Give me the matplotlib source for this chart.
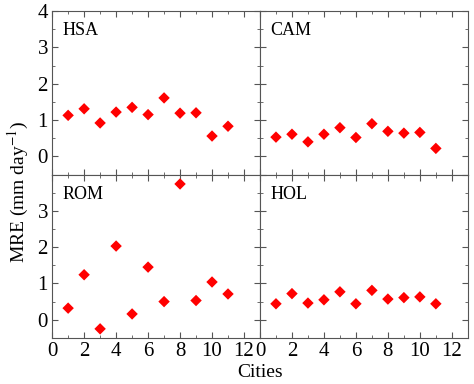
import matplotlib.pyplot as plt
from matplotlib.ticker import MultipleLocator

plt.rcParams['font.family'] = ['Liberation Serif', 'DejaVu Serif']
plt.rcParams['mathtext.fontset'] = 'stix'

cities = [1, 2, 3, 4, 5, 6, 7, 8, 9, 10, 11]
hsa = [1.13, 1.31, 0.92, 1.22, 1.35, 1.15, 1.61, 1.19, 1.20, 0.56, 0.83]
cam = [0.53, 0.61, 0.40, 0.61, 0.79, 0.52, 0.90, 0.69, 0.64, 0.66, 0.22]
rom = [0.32, 1.24, -0.25, 2.03, 0.16, 1.45, 0.50, 3.74, 0.53, 1.04, 0.71]
hol = [0.44, 0.72, 0.46, 0.55, 0.77, 0.44, 0.81, 0.57, 0.61, 0.63, 0.44]
panels = [("HSA", hsa), ("CAM", cam), ("ROM", rom), ("HOL", hol)]

fig = plt.figure(figsize=(4.74, 3.84), dpi=100)
L, R, B, T = 0.110, 0.987, 0.120, 0.971
w = (R - L) / 2
h = (T - B) / 2
grey = '#555555'

for i, (name, vals) in enumerate(panels):
    row, col = divmod(i, 2)
    ax = fig.add_axes([L + col * w, B + (1 - row) * h, w, h])
    ax.scatter(cities, vals, marker='D', s=34, color='red', edgecolors='none', zorder=3)
    ax.set_xlim(0, 13)
    ax.set_ylim(-0.5, 4)
    ax.xaxis.set_major_locator(MultipleLocator(2))
    ax.xaxis.set_minor_locator(MultipleLocator(1))
    ax.yaxis.set_major_locator(MultipleLocator(1))
    ax.yaxis.set_minor_locator(MultipleLocator(0.5))
    ax.tick_params(which='both', direction='in', top=True, right=True, colors=grey,
                   labelcolor='black', labelsize=15)
    ax.tick_params(which='major', length=4, pad=3)
    ax.tick_params(which='minor', length=2)
    for s in ax.spines.values():
        s.set_color(grey)
    ax.text(0.05, 0.88, name, transform=ax.transAxes, fontsize=13, va='center')
    if col == 1:
        ax.set_yticklabels([])
    elif row == 1:
        ax.set_yticks([0, 1, 2, 3])
    if row == 0:
        ax.set_xticklabels([])
    elif col == 0:
        ax.set_xticks([0, 2, 4, 6, 8, 10, 12])

fig.text(0.038, 0.5, 'MRE (mm day$^{-1}$)', rotation=90, va='center', ha='center', fontsize=14)
fig.text(0.548, 0.03, 'Cities', ha='center', va='center', fontsize=14)

fig.savefig('out.png', dpi=100)
